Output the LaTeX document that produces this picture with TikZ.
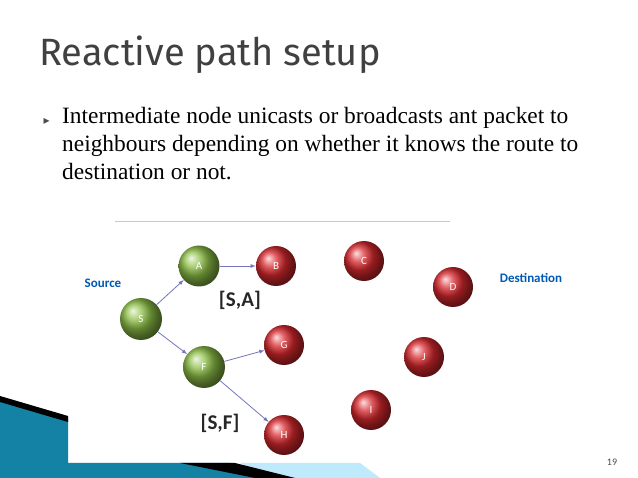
\documentclass[tikz,border=0pt]{standalone}
\usepackage{fontspec}
\setmainfont{Liberation Serif}
\newfontfamily\ttlfont{Fira Sans}
\newfontfamily\carfont{Carlito}
\newfontfamily\djfont{DejaVu Sans}
\definecolor{teal1}{RGB}{20,130,165}
\definecolor{gball}{RGB}{140,190,70}
\definecolor{rball}{RGB}{215,40,45}
\begin{document}
\begin{tikzpicture}[x=1pt,y=-1pt,
 gnode/.style={circle,minimum size=41pt,inner sep=0pt,ball color=gball,text=white,font=\carfont\fontsize{11}{11}\selectfont},
 rnode/.style={circle,minimum size=40pt,inner sep=0pt,ball color=rball,text=white,font=\carfont\fontsize{11}{11}\selectfont},
 arr/.style={->,>=latex,draw=blue!35!gray!80,line width=0.8pt},
 blab/.style={font=\carfont\bfseries\fontsize{21}{21}\selectfont,text=black!85}]
\useasboundingbox (0,0) rectangle (638,478);
\fill[white] (0,0) rectangle (638,478);
% bottom decoration
\fill[cyan!25!white] (240,463) -- (360,463) -- (380,478) -- (270,478) -- cycle;
\fill[teal1] (0,398) -- (68,418) -- (68,463) -- (230,463) -- (290,478) -- (0,478) -- cycle;
\fill[black] (0,396) -- (68,416) -- (68,422) -- (0,402) -- cycle;
\fill[black] (180,463) -- (235,463) -- (295,478) -- (255,478) -- cycle;
% title
\node[anchor=west,font=\ttlfont\fontsize{38}{38}\selectfont,text=black!75] (title) at (36,55) {Reactive path setup};
\node[anchor=west,font=\djfont\fontsize{12}{12}\selectfont,text=black!70] (bul) at (40,121) {▸};
\node[anchor=north west,align=left,inner sep=0pt,font=\fontsize{23.4}{28}\selectfont] (body) at (62,107)
 {Intermediate node unicasts or broadcasts ant packet to\\neighbours depending on whether it knows the route to\\destination or not.};
\draw[blue!10!gray!40,line width=1pt] (115,222) coordinate (l1) -- (450,222) coordinate (l2);
% nodes
\node[gnode] (A) at (199,266) {A};
\node[rnode] (B) at (276,266) {B};
\node[gnode,minimum size=42pt] (S) at (141,319) {S};
\node[gnode,minimum size=42pt] (F) at (204,367) {F};
\node[rnode] (G) at (284,345) {G};
\node[rnode] (H) at (284,435) {H};
\node[rnode] (C) at (364,261) {C};
\node[rnode] (D) at (453,287) {D};
\node[rnode] (J) at (424,357) {J};
\node[rnode] (I) at (371,410) {I};
\draw[arr] (S) -- (A);
\draw[arr] (A) -- (B);
\draw[arr] (S) -- (F);
\draw[arr] (F) -- (G);
\draw[arr] (F) -- (H);
\node[font=\carfont\bfseries\fontsize{13}{13}\selectfont,text=blue!50!cyan!70!black] (src) at (103,283) {Source};
\node[font=\carfont\bfseries\fontsize{13}{13}\selectfont,text=blue!50!cyan!70!black] (dst) at (531,278) {Destination};
\node[blab] (sa) at (240,300) {[S,A]};
\node[blab] (sf) at (220,423) {[S,F]};
\node[font=\carfont\fontsize{10}{10}\selectfont,text=black!70] (pg) at (612,462) {19};
\end{tikzpicture}
\end{document}
